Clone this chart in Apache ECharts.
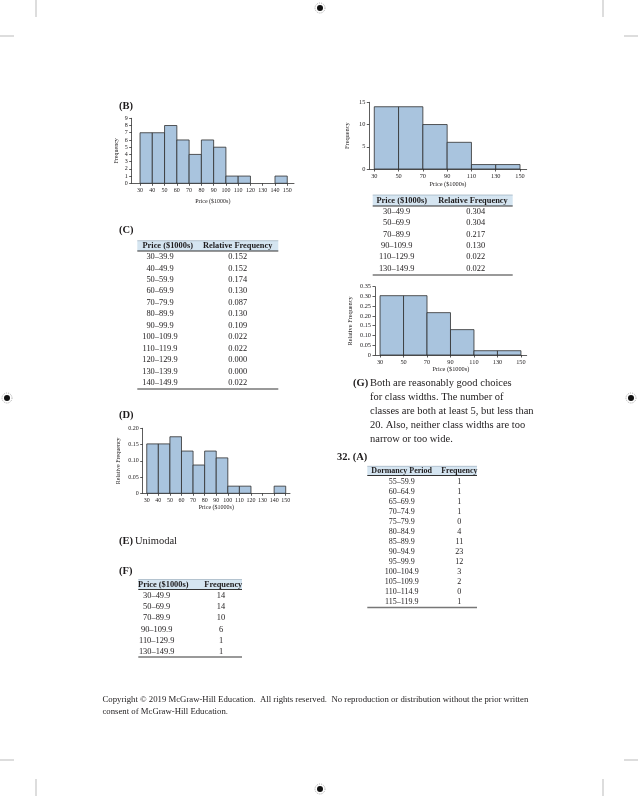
<!DOCTYPE html>
<html><head><meta charset="utf-8">
<script src="https://cdn.jsdelivr.net/npm/echarts@6/dist/echarts.min.js"></script>
<style>html,body{margin:0;padding:0;background:#fff}#c{width:638px;height:796px}</style>
</head><body><div id="c"></div>
<script>
// ---------- data ----------
var binStarts10 = [30, 40, 50, 60, 70, 80, 90, 100, 110, 120, 130, 140];
var freqB = [7, 7, 8, 6, 4, 6, 5, 1, 1, 0, 0, 1];
var relFreqC = [0.152, 0.152, 0.174, 0.130, 0.087, 0.130, 0.109, 0.022, 0.022, 0.000, 0.000, 0.022];
var rangesC = ['30\u201339.9', '40\u201349.9', '50\u201359.9', '60\u201369.9', '70\u201379.9', '80\u201389.9', '90\u201399.9', '100\u2013109.9', '110\u2013119.9', '120\u2013129.9', '130\u2013139.9', '140\u2013149.9'];
var xTicks10 = [30, 40, 50, 60, 70, 80, 90, 100, 110, 120, 130, 140, 150];

var binStarts20 = [30, 50, 70, 90, 110, 130];
var freqF = [14, 14, 10, 6, 1, 1];
var relFreqF = [0.304, 0.304, 0.217, 0.130, 0.022, 0.022];
var rangesF = ['30\u201349.9', '50\u201369.9', '70\u201389.9', '90\u2013109.9', '110\u2013129.9', '130\u2013149.9'];
var xTicks20 = [30, 50, 70, 90, 110, 130, 150];

var dormancyRanges = ['55\u201359.9', '60\u201364.9', '65\u201369.9', '70\u201374.9', '75\u201379.9', '80\u201384.9', '85\u201389.9', '90\u201394.9', '95\u201399.9', '100\u2013104.9', '105\u2013109.9', '110\u2013114.9', '115\u2013119.9'];
var dormancyFreq = [1, 1, 1, 1, 0, 4, 11, 23, 12, 3, 2, 0, 1];

var textG = ['Both are reasonably good choices', 'for class widths. The number of', 'classes are both at least 5, but less than', '20. Also, neither class widths are too', 'narrow or too wide.'];
var copyrightLines = ['Copyright \u00a9 2019 McGraw-Hill Education.  All rights reserved.  No reproduction or distribution without the prior written', 'consent of McGraw-Hill Education.'];

// ---------- styles ----------
var SERIF = '"Liberation Serif", "Times New Roman", serif';
var INK = '#1e1b1c';
var BAR = '#a9c4de';
var EDGE = '#2e2e2e';
var HEADBG = '#d5e5f1';

function histData(starts, width, vals) {
  return starts.map(function (s, i) { return [s, s + width, vals[i]]; });
}
function renderHist(params, api) {
  var y = api.value(2);
  if (!y) return null;
  var p0 = api.coord([api.value(0), y]);
  var p1 = api.coord([api.value(1), 0]);
  return { type: 'rect', shape: { x: p0[0], y: p0[1], width: p1[0] - p0[0], height: p1[1] - p0[1] },
    style: { fill: BAR, stroke: EDGE, lineWidth: 0.8 } };
}
function yFmt2(v) { return v === 0 ? '0' : v.toFixed(2); }

var charts = [
  { grid: { left: 131.7, top: 118.3, width: 162.3, height: 65 }, xmin: 23.2, xmax: 155.5, xticks: xTicks10,
    ymax: 9, yint: 1, yfmt: null, yname: 'Frequency', fs: 6, xgap: 15, ygap: 12,
    data: histData(binStarts10, 10, freqB) },
  { grid: { left: 369.3, top: 102.3, width: 157.4, height: 66.7 }, xmin: 25.9, xmax: 155.5, xticks: xTicks20,
    ymax: 15, yint: 5, yfmt: null, yname: 'Frequency', fs: 6.3, xgap: 12.5, ygap: 19,
    data: histData(binStarts20, 20, freqF) },
  { grid: { left: 375, top: 286.7, width: 151.7, height: 68.3 }, xmin: 25.7, xmax: 154.9, xticks: xTicks20,
    ymax: 0.35, yint: 0.05, yfmt: yFmt2, yname: 'Relative Frequency', fs: 6.3, xgap: 11.5, ygap: 22,
    data: histData(binStarts20, 20, relFreqF) },
  { grid: { left: 142.7, top: 428.3, width: 147.3, height: 65 }, xmin: 26.5, xmax: 153.7, xticks: xTicks10,
    ymax: 0.2, yint: 0.05, yfmt: yFmt2, yname: 'Relative Frequency', fs: 6, xgap: 11.5, ygap: 21,
    data: histData(binStarts10, 10, relFreqC) }
];

var grids = [], xAxes = [], yAxes = [], series = [];
charts.forEach(function (c, i) {
  var ax = { color: '#333', width: 0.8 };
  var lab = { fontFamily: SERIF, fontSize: c.fs, color: INK };
  grids.push(Object.assign({ containLabel: false }, c.grid));
  xAxes.push({ type: 'value', gridIndex: i, min: c.xmin, max: c.xmax,
    axisLine: { show: true, lineStyle: ax }, axisTick: { show: true, length: 2.5, customValues: c.xticks, lineStyle: ax },
    axisLabel: Object.assign({ customValues: c.xticks, margin: 4 }, lab), splitLine: { show: false },
    name: 'Price ($1000s)', nameLocation: 'middle', nameGap: c.xgap, nameTextStyle: lab });
  yAxes.push({ type: 'value', gridIndex: i, min: 0, max: c.ymax, interval: c.yint,
    axisLine: { show: true, lineStyle: ax }, axisTick: { show: true, length: 2.5, lineStyle: ax },
    axisLabel: Object.assign({ margin: 4, formatter: c.yfmt || undefined }, lab), splitLine: { show: false },
    name: c.yname, nameLocation: 'middle', nameGap: c.ygap, nameRotate: 90, nameTextStyle: lab });
  series.push({ type: 'custom', xAxisIndex: i, yAxisIndex: i, renderItem: renderHist,
    encode: { x: [0, 1], y: 2 }, data: c.data, silent: true, animation: false });
});

// ---------- graphic helpers ----------
function txt(s, x, y, font, align) {
  return { type: 'text', silent: true, style: { text: s, x: x, y: y, font: font, fill: INK,
    align: align || 'left', verticalAlign: 'middle', textAlign: align || 'left', textVerticalAlign: 'middle' } };
}
function ln(x1, y1, x2, y2, c, w) {
  return { type: 'line', silent: true, shape: { x1: x1, y1: y1, x2: x2, y2: y2 }, style: { stroke: c, lineWidth: w } };
}
function buildTable(t) {
  var els = [];
  var fs = t.fs || 8.4;
  els.push({ type: 'rect', silent: true, shape: { x: t.left, y: t.headTop, width: t.right - t.left, height: t.headBottom - t.headTop }, style: { fill: HEADBG } });
  els.push(ln(t.left, t.headTop, t.right, t.headTop, '#8fa3b3', 0.6));
  els.push(ln(t.left, t.headBottom, t.right, t.headBottom, '#333', 1.2));
  t.heads.forEach(function (h) { els.push(txt(h[0], h[1], (t.headTop + t.headBottom) / 2 + 0.3, 'bold ' + fs + 'px ' + SERIF, 'center')); });
  t.cols.forEach(function (c) {
    c.values.forEach(function (v, i) { els.push(txt(v, c.x, t.row0 + i * t.step, fs + 'px ' + SERIF, 'center')); });
  });
  els.push(ln(t.left, t.rule, t.right, t.rule, '#777', 1.5));
  return els;
}
function fmt3(v) { return v.toFixed(3); }

var g = [];
// registration marks
[[320, 8], [320, 789], [7, 398], [631, 398]].forEach(function (p) {
  g.push({ type: 'circle', silent: true, shape: { cx: p[0], cy: p[1], r: 5 }, style: { fill: '#fff', stroke: '#aaa', lineWidth: 1, lineDash: [1, 1] } });
  g.push({ type: 'circle', silent: true, shape: { cx: p[0], cy: p[1], r: 3 }, style: { fill: '#111' } });
});
g.push(ln(36, 0, 36, 17, '#bbb', 1), ln(603, 0, 603, 17, '#bbb', 1));
g.push(ln(36, 779, 36, 796, '#bbb', 1), ln(603, 779, 603, 796, '#bbb', 1));
g.push(ln(0, 36, 14, 36, '#bbb', 1), ln(624, 36, 638, 36, '#bbb', 1));
g.push(ln(0, 760, 14, 760, '#bbb', 1), ln(624, 760, 638, 760, '#bbb', 1));

// part labels
var BOLD10 = 'bold 10.5px ' + SERIF, BODY = '10.5px ' + SERIF;
g.push(txt('(B)', 119, 106, BOLD10));
g.push(txt('(C)', 119, 230, BOLD10));
g.push(txt('(D)', 119, 415, BOLD10));
g.push(txt('(E)', 119, 541, BOLD10), txt('Unimodal', 135, 541, BODY));
g.push(txt('(F)', 119, 571, BOLD10));
g.push(txt('(G)', 353, 383.5, BOLD10));
textG.forEach(function (s, i) { g.push(txt(s, 370, 383.5 + i * 14, BODY)); });
g.push(txt('32. (A)', 337, 457, BOLD10));
copyrightLines.forEach(function (s, i) { g.push(txt(s, 102.5, 700 + i * 11.7, '8.72px ' + SERIF)); });

// tables
g = g.concat(buildTable({ left: 137.3, right: 278.3, headTop: 240.7, headBottom: 251, row0: 256.9, step: 11.45, rule: 389,
  heads: [['Price ($1000s)', 167.7], ['Relative Frequency', 237.7]],
  cols: [{ x: 160, values: rangesC }, { x: 237.7, values: relFreqC.map(fmt3) }] }));
g = g.concat(buildTable({ left: 372.7, right: 512.7, headTop: 195, headBottom: 206, row0: 211.5, step: 11.45, rule: 275,
  heads: [['Price ($1000s)', 401.7], ['Relative Frequency', 473]],
  cols: [{ x: 396.7, values: rangesF }, { x: 475.7, values: relFreqF.map(fmt3) }] }));
g = g.concat(buildTable({ left: 138.3, right: 242, headTop: 579.5, headBottom: 589.5, row0: 595.8, step: 11.2, rule: 657,
  heads: [['Price ($1000s)', 163.3], ['Frequency', 223.3]],
  cols: [{ x: 156.7, values: rangesF }, { x: 221, values: freqF.map(String) }] }));
g = g.concat(buildTable({ left: 367.3, right: 477, headTop: 466.3, headBottom: 475.5, row0: 481.5, step: 10.05, rule: 607.5, fs: 8,
  heads: [['Dormancy Period', 401.7], ['Frequency', 459.3]],
  cols: [{ x: 401.7, values: dormancyRanges }, { x: 459.3, values: dormancyFreq.map(String) }] }));

var chart = echarts.init(document.getElementById('c'), null, { renderer: 'canvas' });
chart.setOption({
  backgroundColor: '#ffffff',
  animation: false,
  textStyle: { fontFamily: SERIF },
  grid: grids, xAxis: xAxes, yAxis: yAxes, series: series,
  graphic: { elements: g }
});
</script></body></html>
